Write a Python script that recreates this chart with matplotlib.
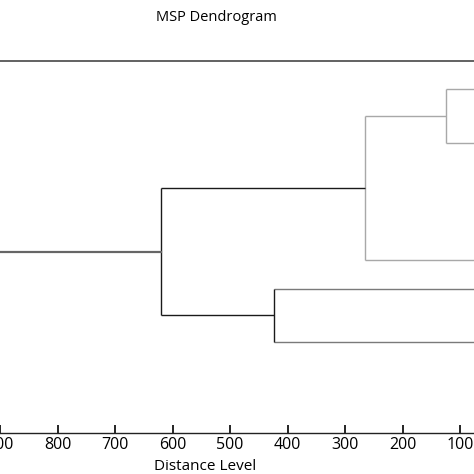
import matplotlib
matplotlib.use("Agg")
import matplotlib.pyplot as plt

plt.rcParams['font.family'] = ['Open Sans', 'DejaVu Sans']

# Data
leaf_pos = [0.75, 2.2, 5.35, 6.13, 7.55]          # leaf order positions
leaf_height = [0, 0, 0, 0, 0]
# merges: (child_a, child_b, distance); children index leaves (0-4) then merged nodes (5..)
merges = [
    (0, 1, 124),   # node 5
    (5, 2, 266),   # node 6
    (3, 4, 424),   # node 7
    (6, 7, 620),   # node 8 (root)
]
root_tail = 960
ticks = [100, 200, 300, 400, 500, 600, 700, 800, 900]

# styles
vert_colors = ['#a8a8a8', '#a8a8a8', '#1a1a1a', '#1a1a1a']
branch_colors = [('#a8a8a8', '#a8a8a8'), ('#a8a8a8', '#a8a8a8'),
                 ('#7a7a7a', '#7a7a7a'), ('#1a1a1a', '#1a1a1a')]

fig = plt.figure(figsize=(4.74, 4.74), dpi=100)
ax = fig.add_axes([0, 0.0865, 1, 0.7845])

ys = list(leaf_pos)
hs = list(leaf_height)
for i, (a, b, d) in enumerate(merges):
    ya, yb = ys[a], ys[b]
    ca, cb = branch_colors[i]
    ax.plot([d, hs[a]], [ya, ya], color=ca, lw=1.0, solid_capstyle='butt')
    ax.plot([d, hs[b]], [yb, yb], color=cb, lw=1.0, solid_capstyle='butt')
    ax.plot([d, d], [ya, yb], color=vert_colors[i], lw=1.0, solid_capstyle='butt')
    ys.append((ya + yb) / 2)
    hs.append(d)

ax.plot([root_tail, hs[-1]], [ys[-1], ys[-1]], color='#666666', lw=1.6)

ax.set_xlim(897, 76)
ax.set_ylim(10, 0)
ax.set_xticks(ticks)
ax.set_xticklabels([str(t) for t in ticks])
ax.set_yticks([])
ax.tick_params(axis='x', direction='in', length=6, width=1.2, labelsize=11.5, pad=3)
for s in ['left', 'right']:
    ax.spines[s].set_visible(False)
ax.spines['top'].set_color('#555555')
ax.spines['top'].set_linewidth(1.3)
ax.spines['bottom'].set_color('#222222')
ax.spines['bottom'].set_linewidth(1.0)
ax.set_xlabel('Distance Level', fontsize=11)
ax.xaxis.set_label_coords(205 / 474, -0.07)
fig.text(0.457, 0.963, 'MSP Dendrogram', ha='center', va='center', fontsize=10.5)

fig.savefig('out.png', dpi=100)
